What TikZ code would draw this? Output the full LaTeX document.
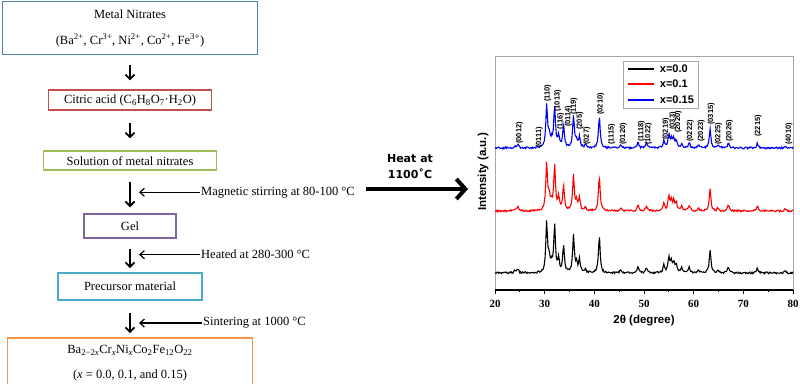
\documentclass[tikz,border=0pt]{standalone}
\usepackage{fontspec}
\setmainfont{Liberation Serif}
\setsansfont{Liberation Sans}
\newfontfamily\dejavu{DejaVu Sans}
\usetikzlibrary{positioning, arrows.meta}
\definecolor{boxblue}{HTML}{4F81BD}
\definecolor{boxred}{HTML}{C0504D}
\definecolor{boxgreen}{HTML}{9BBB59}
\definecolor{boxpurple}{HTML}{8064A2}
\definecolor{boxcyan}{HTML}{4BACC6}
\definecolor{boxorange}{HTML}{F79646}
\definecolor{plotblue}{HTML}{0000F5}
\newcommand{\ion}[1]{\textsuperscript{#1}}
\newcommand{\low}[1]{\textsubscript{#1}}
\newcommand{\flowfont}{\fontsize{12.5}{15}\selectfont}
\newcommand{\plotfont}[1]{\sffamily\bfseries\fontsize{#1}{#1}\selectfont}

\tikzset{
  stage/.style={draw=#1, line width=1.9pt, inner sep=2pt, align=center, font=\flowfont},
  note/.style={inner sep=1pt, font=\flowfont},
  down/.style={line width=1.8pt, -{Straight Barb[length=4.5pt, width=9pt]}},
  side/.style={line width=1.2pt, -{Straight Barb[length=4.5pt, width=8pt]}},
  hkl/.style={rotate=90, anchor=west, inner sep=0pt, font=\plotfont{7.5}},
  declare function={
    xrd(\t)=0.08/(0.04+(\t-24.0)*(\t-24.0))+0.16/(0.04+(\t-24.6)*(\t-24.6))
      +2/(0.04+(\t-30.4)*(\t-30.4))+0.56/(0.04+(\t-30.9)*(\t-30.9))
      +0.28/(0.04+(\t-31.4)*(\t-31.4))+1.88/(0.04+(\t-32.0)*(\t-32.0))
      +0.52/(0.04+(\t-32.8)*(\t-32.8))+1.04/(0.04+(\t-33.8)*(\t-33.8))
      +1.48/(0.04+(\t-35.8)*(\t-35.8))+0.36/(0.04+(\t-36.4)*(\t-36.4))
      +0.52/(0.04+(\t-37.0)*(\t-37.0))+0.12/(0.04+(\t-38.2)*(\t-38.2))
      +1.48/(0.04+(\t-41.0)*(\t-41.0))+0.12/(0.04+(\t-45.3)*(\t-45.3))
      +0.24/(0.04+(\t-48.8)*(\t-48.8))+0.2/(0.04+(\t-50.5)*(\t-50.5))
      +0.32/(0.04+(\t-54.0)*(\t-54.0))+0.6/(0.04+(\t-55.0)*(\t-55.0))
      +0.44/(0.04+(\t-55.5)*(\t-55.5))+0.4/(0.04+(\t-56.0)*(\t-56.0))
      +0.32/(0.04+(\t-56.5)*(\t-56.5))+0.2/(0.04+(\t-57.6)*(\t-57.6))
      +0.24/(0.04+(\t-59.1)*(\t-59.1))+0.12/(0.04+(\t-61.0)*(\t-61.0))
      +0.92/(0.04+(\t-63.3)*(\t-63.3))+0.12/(0.04+(\t-64.9)*(\t-64.9))
      +0.24/(0.04+(\t-67.0)*(\t-67.0))+0.2/(0.04+(\t-72.8)*(\t-72.8))
      +0.08/(0.04+(\t-78.4)*(\t-78.4));
  }
}

\begin{document}
\begin{tikzpicture}[x=1pt, y=-1pt]
\useasboundingbox (0,0) rectangle (800,383);
\pgfmathsetseed{7}

% synthesis route
\node[stage=boxblue, minimum width=255pt, minimum height=53pt] (nitr) at (130,28)
  {Metal Nitrates\\[11pt](Ba\ion{2+}, Cr\ion{3+}, Ni\ion{2+}, Co\ion{2+}, Fe\ion{3+})};
\node[stage=boxred, minimum width=163pt, minimum height=20pt, below=34pt of nitr] (citric)
  {Citric acid (C\low{6}H\low{8}O\low{7}·H\low{2}O)};
\node[stage=boxgreen, minimum width=173pt, minimum height=19pt, below=39pt of citric] (sol)
  {Solution of metal nitrates};
\node[stage=boxpurple, minimum width=92pt, minimum height=24pt, below=42pt of sol] (gel) {Gel};
\node[stage=boxcyan, minimum width=144pt, minimum height=27pt, below=33pt of gel] (prec)
  {Precursor material};
\node[stage=boxorange, minimum width=245pt, minimum height=51pt, below=36pt of prec] (prod)
  {Ba\low{2−2\textit{x}}Cr\low{\textit{x}}Ni\low{\textit{x}}Co\low{2}Fe\low{12}O\low{22}\\[10pt](\textit{x} = 0.0, 0.1, and 0.15)};

\foreach \a/\b/\s/\e in {nitr/citric/10/9, citric/sol/12/12, sol/gel/11/6, gel/prec/10/4, prec/prod/12/4}
  \draw[down, shorten <=\s pt, shorten >=\e pt] (\a) -- (\b);

\path (sol) -- (gel) coordinate[midway, xshift=9pt] (stirpt);
\path (gel) -- (prec) coordinate[midway, xshift=9pt, yshift=1pt] (curept);
\path (prec) -- (prod) coordinate[midway, xshift=9pt, yshift=-4pt] (sintpt);
\node[note, right=61pt of stirpt] (stir) {Magnetic stirring at 80-100 °C};
\node[note, right=61pt of curept] (cure) {Heated at 280-300 °C};
\node[note, right=63pt of sintpt] (sint) {Sintering at 1000 °C};
\draw[side] (stir) -- (stirpt);
\draw[side] (cure) -- (curept);
\draw[side] (sint) -- (sintpt);

% heat treatment
\node[align=center, font=\dejavu\bfseries\fontsize{11}{16}\selectfont] (heat) at (410,167) {Heat at\\1100˚C};
\coordinate (hs) at (366,189);
\coordinate (he) at (468,189);
\draw[line width=4pt, -{Straight Barb[length=9pt, width=20pt]}] (hs) -- (he);

% XRD patterns
\begin{scope}[shift={(495,290)}, x=4.967pt, y=1pt]
  \draw[gray!70, line width=0.8pt] (0,0) -- (0,234) -- (60,234) -- (60,0);
  \draw[black, line width=1.1pt] plot[domain=20:80, samples=400] ({\x-20}, {17+xrd(\x)+0.9*rand});
  \draw[red, line width=1.1pt] plot[domain=20:80, samples=400] ({\x-20}, {79+0.95*xrd(\x)+0.9*rand});
  \draw[plotblue, line width=1.1pt] plot[domain=20:80, samples=400] ({\x-20}, {142+0.85*xrd(\x)+0.9*rand});
  \draw[line width=1.3pt] (0,0) -- (60,0);
  \foreach \v in {20,30,...,80}
    \draw[line width=1pt] (\v-20,0) -- ++(0,-4) node[below=2pt, font=\bfseries\fontsize{11}{11}\selectfont] (tick\v) {\v};
  \foreach \v in {25,35,...,75}
    \draw[line width=1pt] (\v-20,0) -- ++(0,-2);
  \node[font=\plotfont{11.5}] (xlab) at (30,-31) {2θ (degree)};
  \node[rotate=90, font=\plotfont{11.5}] (ylab) at (-2.4,118) {Intensity (a.u.)};
  \foreach \px/\py/\lab [count=\i] in {24.9/144/(0012), 28.9/148/(0111), 30.6/102/(110),
      32.6/112/(1013), 33.2/130/(116), 34.8/127/(0114), 35.9/115/(119), 37.1/130/(205),
      38.5/145/(027), 41.3/115/(0210), 43.5/145/(1115), 45.8/145/(0120), 49.5/142/(1118),
      50.9/145/(1022), 54.4/140/(0219), 55.8/130/(033), 56.9/133/(2020), 59.3/142/(0222),
      61.5/142/(2023), 63.5/125/(0315), 65.0/145/(0225), 67.2/142/(2026), 73.0/137/(2215),
      79.2/145/(4010)}
    \node[hkl] (hkl\i) at (\px-20, 290-\py) {\lab};
\end{scope}

% legend
\node[draw=gray!70, line width=0.8pt, minimum width=75pt, minimum height=47pt] (leg) at (660.5,84.5) {};
\foreach \c/\s/\yy in {black/0.0/69, red/0.1/84, plotblue/0.15/100}
  \draw[\c, line width=1.2pt] (628,\yy) -- (654,\yy) node[right=2pt, black, font=\plotfont{11}] (leg\s) {x=\s};
\end{tikzpicture}
\end{document}
